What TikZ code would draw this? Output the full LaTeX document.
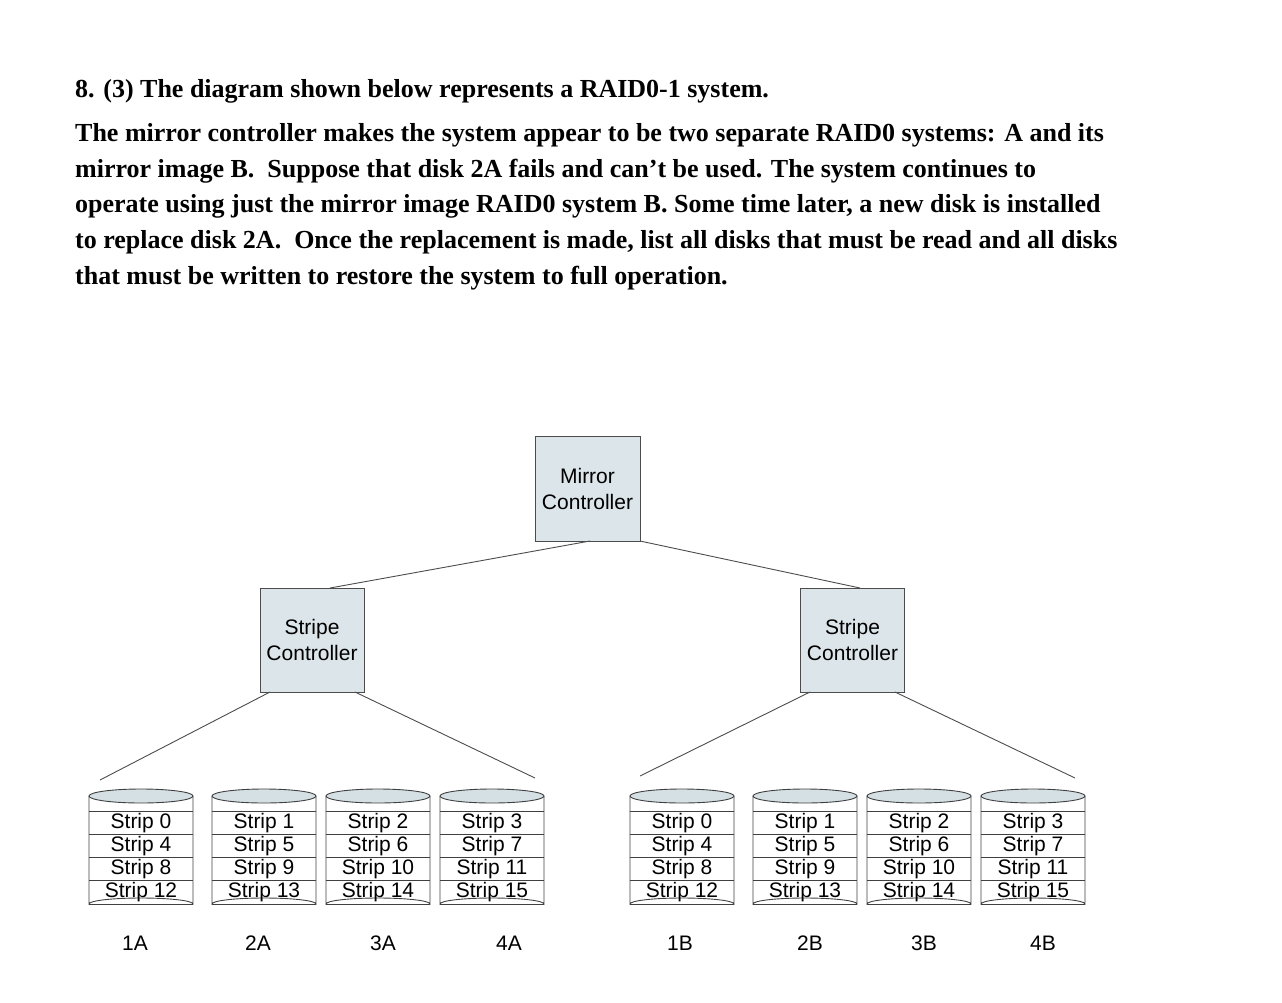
\documentclass[tikz,border=0pt]{standalone}
\usepackage{fontspec}
\setmainfont{Liberation Serif}
\newfontfamily\arialf{Liberation Sans}
\begin{document}
\begin{tikzpicture}[x=1pt,y=-1pt,
  q/.style={anchor=base west,inner sep=0,font=\fontsize{26}{30}\selectfont\bfseries},
  ctl/.style={draw=black!70,fill=cyan!25!gray!25,minimum width=104pt,minimum height=104pt,inner sep=1pt,align=center,font=\arialf\fontsize{21}{26}\selectfont},
  lab/.style={font=\arialf\fontsize{21}{24}\selectfont},
  st/.style={font=\arialf\fontsize{21}{21}\selectfont,inner sep=0},
  conn/.style={draw=black!70,line width=0.9pt}]
\useasboundingbox (0,0) rectangle (1282,1002);
\node[q] (t1) at (75,97) {8. (3) The diagram shown below represents a RAID0-1 system.};
\node[q] (t2) at (75,141) {The mirror controller makes the system appear to be two separate RAID0 systems: A and its};
\node[q] (t3) at (75,177) {mirror image B.\ \ Suppose that disk 2A fails and can’t be used. The system continues to};
\node[q] (t4) at (75,212) {operate using just the mirror image RAID0 system B. Some time later, a new disk is installed};
\node[q] (t5) at (75,248) {to replace disk 2A.\ \ Once the replacement is made, list all disks that must be read and all disks};
\node[q] (t6) at (75,284) {that must be written to restore the system to full operation.};
\node[ctl,minimum width=105pt,minimum height=105pt] (m) at (587.5,488.5) {Mirror\\Controller};
\node[ctl] (sa) at (312,640) {Stripe\\Controller};
\node[ctl] (sb) at (852.5,640) {Stripe\\Controller};
\coordinate (m1) at (590,541); \coordinate (m2) at (640,541);
\draw[conn] (m1) -- (330,588);
\draw[conn] (m2) -- (860,588);
\coordinate (a1) at (100,780); \coordinate (a4) at (535,778);
\coordinate (b1) at (640,776); \coordinate (b4) at (1075,778);
\draw[conn] (270,692) -- (a1);
\draw[conn] (355,692) -- (a4);
\draw[conn] (810,692) -- (b1);
\draw[conn] (895,692) -- (b4);
\newcommand{\disk}[7]{%
  \begin{scope}[shift={(#1,0)}]
  \draw[black!75,line width=0.9pt] (0,796) -- (0,904) arc[start angle=180,end angle=360,x radius=52,y radius=6] -- (104,796);
  \draw[black!75,line width=0.9pt,fill=cyan!25!gray!30] (52,796) ellipse[x radius=52,y radius=7];
  \foreach \yy in {811,834,857,880,904} \draw[black!75,line width=0.8pt] (0,\yy) -- (104,\yy);
  \node[st] at (52,823) {Strip #2};
  \node[st] at (52,846) {Strip #3};
  \node[st] at (52,869) {Strip #4};
  \node[st] at (52,892) {Strip #5};
  \end{scope}
  \node[lab] (#6) at (#7,943) {#6};}
\disk{89}{0}{4}{8}{12}{1A}{135}
\disk{212}{1}{5}{9}{13}{2A}{258}
\disk{326}{2}{6}{10}{14}{3A}{383}
\disk{440}{3}{7}{11}{15}{4A}{509}
\disk{630}{0}{4}{8}{12}{1B}{680}
\disk{753}{1}{5}{9}{13}{2B}{810}
\disk{867}{2}{6}{10}{14}{3B}{924}
\disk{981}{3}{7}{11}{15}{4B}{1043}
\end{tikzpicture}
\end{document}
